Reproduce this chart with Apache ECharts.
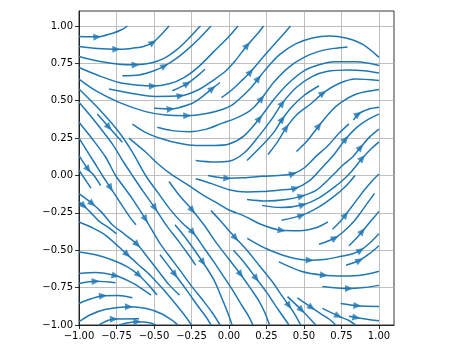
<!DOCTYPE html>
<html><head><meta charset="utf-8">
<script src="https://cdn.jsdelivr.net/npm/echarts@6/dist/echarts.min.js"></script>
<style>html,body{margin:0;padding:0;background:#fff}#c{width:474px;height:355px}</style>
</head><body><div id="c"></div>
<script>
const xTicks = [-1, -0.75, -0.5, -0.25, 0, 0.25, 0.5, 0.75, 1];
const yTicks = [-1, -0.75, -0.5, -0.25, 0, 0.25, 0.5, 0.75, 1];

// streamlines, as [x, y] points
const sl01 = [[-1,0.929],[-0.878,0.927],[-0.78,0.95],[-0.72,0.973],[-0.678,1.0]];
const sl02 = [[-1,0.862],[-0.878,0.849],[-0.751,0.844],[-0.65,0.85],[-0.57,0.862],[-0.507,0.89],[-0.456,0.938],[-0.4,1.0]];
const sl03 = [[-1,0.796],[-0.867,0.764],[-0.733,0.744],[-0.622,0.74],[-0.52,0.752],[-0.43,0.785],[-0.35,0.84],[-0.28,0.905],[-0.2,0.99],[-0.19,1.0]];
const sl04 = [[-0.711,0.667],[-0.6,0.672],[-0.5,0.7],[-0.429,0.733],[-0.35,0.783],[-0.28,0.84],[-0.2,0.915],[-0.12,1.0]];
const sl05 = [[-1,0.722],[-0.867,0.667],[-0.733,0.622],[-0.6,0.603],[-0.507,0.598],[-0.4,0.613],[-0.3,0.655],[-0.2,0.73],[-0.1,0.83],[0,0.93],[0.06,1.0]];
const sl06 = [[-0.378,0.567],[-0.278,0.615],[-0.2,0.675],[-0.16,0.71]];
const sl07 = [[-0.8,0.578],[-0.644,0.549],[-0.489,0.529],[-0.322,0.533],[-0.2,0.575],[-0.1,0.64],[-0.02,0.7],[0.04,0.765],[0.122,0.871],[0.2,0.96],[0.23,1.0]];
const sl08 = [[-0.5,0.449],[-0.389,0.444],[-0.256,0.478],[-0.204,0.507],[-0.111,0.582],[-0.06,0.622]];
const sl09 = [[-0.05,0.52],[0.022,0.575],[0.08,0.63],[0.144,0.693],[0.222,0.785],[0.3,0.875],[0.367,0.95],[0.41,1.0]];
const sl10 = [[-1,0.644],[-0.889,0.567],[-0.733,0.489],[-0.556,0.427],[-0.422,0.404],[-0.278,0.4],[-0.15,0.415],[-0.05,0.44],[0.02,0.47],[0.1,0.54],[0.15,0.59],[0.196,0.649],[0.25,0.715],[0.333,0.805],[0.444,0.88],[0.556,0.92],[0.667,0.933],[0.778,0.92],[0.889,0.878],[1.0,0.79]];
const sl11 = [[-0.478,0.322],[-0.38,0.3],[-0.267,0.293],[-0.15,0.31],[-0.044,0.35],[0.04,0.38],[0.12,0.42],[0.17,0.46],[0.218,0.516],[0.3,0.625],[0.4,0.725],[0.5,0.79],[0.6,0.83],[0.7,0.85],[0.79,0.86]];
const sl12 = [[-0.644,0.344],[-0.55,0.285],[-0.444,0.244],[-0.333,0.215],[-0.222,0.2],[-0.1,0.2],[0,0.21],[0.1,0.265],[0.204,0.382],[0.3,0.51],[0.4,0.62],[0.5,0.7],[0.6,0.74],[0.7,0.76],[0.85,0.76],[1.0,0.735]];
const sl13 = [[-0.222,0.1],[-0.1,0.09],[0,0.095],[0.1,0.15],[0.2,0.265],[0.28,0.37],[0.356,0.484],[0.45,0.59],[0.55,0.66],[0.65,0.695],[0.8,0.705],[0.9,0.7],[1.0,0.685]];
const sl14 = [[0.12,0.1],[0.22,0.2],[0.3,0.29],[0.356,0.378],[0.42,0.46],[0.5,0.535],[0.6,0.6]];
const sl15 = [[0.26,0.14],[0.32,0.22],[0.382,0.32],[0.45,0.405],[0.544,0.478],[0.627,0.551],[0.733,0.615],[0.844,0.645],[1.0,0.635]];
const sl16 = [[0.45,0.16],[0.52,0.23],[0.6,0.333],[0.68,0.43],[0.75,0.49],[0.85,0.545],[1.0,0.575]];
const sl17 = [[-0.14,0.0],[-0.011,-0.018],[0.1,-0.015],[0.222,-0.005],[0.33,0.0],[0.427,0.011],[0.5,0.05],[0.578,0.126],[0.66,0.2],[0.733,0.282],[0.8,0.345]];
const sl18 = [[0.83,0.37],[0.862,0.411],[0.933,0.444],[1.0,0.456]];
const sl19 = [[-0.222,-0.022],[-0.111,-0.056],[0,-0.095],[0.12,-0.11],[0.222,-0.107],[0.33,-0.098],[0.444,-0.085],[0.53,-0.04],[0.6,0.03],[0.7,0.14],[0.778,0.244],[0.85,0.32],[0.92,0.37],[1.0,0.41]];
const sl20 = [[0.12,-0.16],[0.25,-0.17],[0.38,-0.16],[0.484,-0.138],[0.58,-0.1],[0.66,-0.03],[0.72,0.03],[0.76,0.07],[0.82,0.12],[0.878,0.189],[0.94,0.26],[1.0,0.31]];
const sl21 = [[0.22,-0.2],[0.35,-0.215],[0.493,-0.196],[0.6,-0.15],[0.7,-0.08],[0.76,-0.03],[0.82,0.03],[0.889,0.116],[0.95,0.18],[1.0,0.225]];
const sl22 = [[0.35,-0.3],[0.484,-0.267],[0.6,-0.21],[0.7,-0.14],[0.78,-0.07],[0.84,0.0]];
const sl23 = [[-0.667,0.25],[-0.56,0.16],[-0.47,0.075],[-0.389,0.01],[-0.28,-0.06],[-0.156,-0.142],[-0.07,-0.19],[0,-0.231],[0.1,-0.27],[0.22,-0.33],[0.351,-0.367],[0.47,-0.37],[0.58,-0.35],[0.66,-0.31]];
const sl24 = [[0.69,-0.36],[0.74,-0.31],[0.778,-0.262],[0.84,-0.18],[0.9,-0.1],[0.96,-0.03],[1.0,0.01]];
const sl25 = [[0.6,-0.46],[0.707,-0.418],[0.77,-0.37],[0.83,-0.31],[0.88,-0.245],[0.93,-0.175],[0.97,-0.12]];
const sl26 = [[0.8,-0.47],[0.85,-0.42],[0.889,-0.373],[0.95,-0.3],[1.0,-0.24]];
const sl27 = [[0.122,-0.42],[0.25,-0.49],[0.4,-0.545],[0.538,-0.567],[0.65,-0.56],[0.75,-0.54],[0.82,-0.525],[0.878,-0.5],[0.94,-0.45],[1.0,-0.39]];
const sl28 = [[0.78,-0.6],[0.871,-0.567],[0.94,-0.52],[1.0,-0.47]];
const sl29 = [[0.333,-0.578],[0.48,-0.64],[0.633,-0.667],[0.76,-0.672],[0.889,-0.665],[1.0,-0.64]];
const sl30 = [[0.622,-0.742],[0.72,-0.752],[0.8,-0.756],[0.9,-0.75],[1.0,-0.735]];
const sl31 = [[0.744,-0.856],[0.856,-0.871],[1.0,-0.876]];
const sl32 = [[0.8,-0.942],[0.849,-0.951],[1.0,-0.972]];
const sl33 = [[0.622,-0.889],[0.729,-0.94],[0.8,-0.97],[0.844,-1.0]];
const sl34 = [[-0.12,-0.235],[-0.06,-0.3],[0,-0.37],[0.044,-0.418],[0.12,-0.5],[0.2,-0.6],[0.289,-0.711],[0.35,-0.8],[0.4,-0.871],[0.44,-0.93],[0.478,-1.0]];
const sl35 = [[0.03,-0.5],[0.1,-0.58],[0.182,-0.689],[0.25,-0.78],[0.33,-0.9],[0.4,-1.0]];
const sl36 = [[-0.4,-0.04],[-0.333,-0.13],[-0.244,-0.233],[-0.16,-0.34],[-0.089,-0.444],[0,-0.56],[0.078,-0.662],[0.14,-0.75],[0.2,-0.84],[0.24,-0.92],[0.27,-1.0]];
const sl37 = [[-1,0.578],[-0.867,0.444],[-0.733,0.289],[-0.644,0.156],[-0.556,0.0],[-0.47,-0.12],[-0.39,-0.23],[-0.31,-0.32],[-0.24,-0.382],[-0.17,-0.48],[-0.1,-0.58],[-0.04,-0.67],[0.02,-0.76],[0.08,-0.86],[0.13,-0.94],[0.16,-1.0]];
const sl38 = [[-1,0.489],[-0.889,0.356],[-0.778,0.211],[-0.7,0.085],[-0.644,0.0],[-0.57,-0.11],[-0.493,-0.218],[-0.42,-0.33],[-0.333,-0.444],[-0.27,-0.53],[-0.222,-0.6]];
const sl39 = [[-0.878,0.411],[-0.8,0.322],[-0.711,0.222]];
const sl40 = [[-1,0.356],[-0.911,0.244],[-0.822,0.122],[-0.756,0.0],[-0.644,-0.156],[-0.556,-0.293],[-0.467,-0.444],[-0.411,-0.522],[-0.33,-0.63],[-0.25,-0.74],[-0.17,-0.84],[-0.11,-0.92],[-0.06,-1.0]];
const sl41 = [[-1,0.25],[-0.95,0.17],[-0.9,0.09],[-0.844,0.0],[-0.789,-0.084],[-0.72,-0.19],[-0.66,-0.28],[-0.62,-0.33]];
const sl42 = [[-1,0.133],[-0.938,0.04],[-0.9,0.0],[-0.856,-0.067]];
const sl43 = [[-1,0.035],[-0.96,-0.025],[-0.92,-0.085]];
const sl44 = [[-1,-0.122],[-0.911,-0.189],[-0.85,-0.245],[-0.778,-0.33],[-0.7,-0.39],[-0.611,-0.462],[-0.54,-0.55],[-0.47,-0.64],[-0.4,-0.73],[-0.33,-0.8]];
const sl45 = [[-1,-0.178],[-0.967,-0.204],[-0.92,-0.25],[-0.867,-0.305],[-0.8,-0.35],[-0.75,-0.39]];
const sl46 = [[-0.36,-0.33],[-0.28,-0.43],[-0.173,-0.582],[-0.1,-0.7],[-0.04,-0.84],[0.0,-0.94],[0.02,-1.0]];
const sl47 = [[-0.46,-0.53],[-0.36,-0.662],[-0.28,-0.77],[-0.21,-0.87],[-0.15,-0.95],[-0.12,-1.0]];
const sl48 = [[-1,-0.311],[-0.9,-0.355],[-0.822,-0.4],[-0.678,-0.529],[-0.6,-0.6],[-0.522,-0.67],[-0.44,-0.76],[-0.356,-0.86],[-0.3,-0.93],[-0.25,-1.0]];
const sl49 = [[-1,-0.511],[-0.889,-0.53],[-0.778,-0.565],[-0.68,-0.61],[-0.6,-0.667],[-0.53,-0.74],[-0.48,-0.8]];
const sl50 = [[-1,-0.655],[-0.889,-0.649],[-0.756,-0.671],[-0.66,-0.71],[-0.6,-0.745],[-0.52,-0.8]];
const sl51 = [[-1,-0.722],[-0.889,-0.708],[-0.756,-0.718]];
const sl52 = [[-1,-0.856],[-0.92,-0.825],[-0.84,-0.804],[-0.74,-0.803],[-0.644,-0.818]];
const sl53 = [[-1,-0.978],[-0.92,-0.93],[-0.82,-0.895],[-0.667,-0.878],[-0.55,-0.89],[-0.45,-0.925],[-0.37,-0.975],[-0.34,-1.0]];
const sl54 = [[-0.867,-1.0],[-0.82,-0.975],[-0.767,-0.96],[-0.6,-0.958]];
const sl55 = [[-0.733,-1.0],[-0.67,-0.985],[-0.611,-0.978],[-0.53,-0.985],[-0.489,-1.0]];
const sl56 = [[0.39,-0.81],[0.484,-0.9],[0.578,-1.0]];
const sl57 = [[0.456,-0.818],[0.551,-0.884],[0.62,-0.93],[0.667,-0.96],[0.711,-1.0]];

const streamlines = [sl01,sl02,sl03,sl04,sl05,sl06,sl07,sl08,sl09,sl10,sl11,sl12,sl13,sl14,sl15,sl16,sl17,sl18,sl19,sl20,
  sl21,sl22,sl23,sl24,sl25,sl26,sl27,sl28,sl29,sl30,sl31,sl32,sl33,sl34,sl35,sl36,sl37,sl38,sl39,sl40,
  sl41,sl42,sl43,sl44,sl45,sl46,sl47,sl48,sl49,sl50,sl51,sl52,sl53,sl54,sl55,sl56,sl57];
// index of the point carrying an arrow head, per streamline
const arrowIdx = [[1],[2,5],[3],[3],[4],[1],[3,8],[1,4],[3],[5,11],[8],[8],[6],[3],[2,5],[2],[1,5],[1],[6,10],[3,9],
  [2,7],[1],[10],[2],[1],[2],[3,7],[1],[2],[2],[1],[1],[1],[3,8],[2],[2,6],[8],[6],[1],[5],
  [4],[1],[],[1,5],[1],[2],[1],[3],[4],[2],[1],[2],[3],[2],[2],[1],[1]];

const chart = echarts.init(document.getElementById('c'), null, {renderer:'canvas'});
const C0 = '#1f77b4';
const fmt = v => (v < 0 ? '\u2212' : '') + Math.abs(v).toFixed(2);

const series = streamlines.map(pts => ({
  type: 'line', data: pts, showSymbol: false, smooth: 0.3,
  lineStyle: {color: C0, width: 1.5}, silent: true, animation: false, z: 2, clip: true
}));
const arrows = [];
streamlines.forEach((pts, i) => {
  arrowIdx[i].forEach(k => {
    const a = pts[Math.max(0, k - 1)], b = pts[Math.min(pts.length - 1, k + 1)];
    const ang = Math.atan2(b[1] - a[1], b[0] - a[0]) * 180 / Math.PI;
    arrows.push({value: pts[k], symbolRotate: ang - 90});
  });
});
series.push({type: 'scatter', data: arrows, symbol: 'triangle', symbolSize: [7, 8],
  itemStyle: {color: C0}, silent: true, animation: false, z: 3});

const axisCommon = {
  type: 'value', min: -1, max: 1.1, interval: 0.25,
  axisLine: {show: true, onZero: false, lineStyle: {color: '#000', width: 0.8}},
  axisTick: {show: true, inside: false, length: 4, customValues: xTicks, lineStyle: {color: '#000', width: 0.8}},
  splitLine: {show: true, lineStyle: {color: '#b0b0b0', width: 0.8}},
  axisLabel: {customValues: xTicks, formatter: fmt, color: '#000', fontSize: 10, fontFamily: 'DejaVu Sans', margin: 6}
};
chart.setOption({
  animation: false,
  backgroundColor: '#fff',
  grid: {left: 79, top: 11, width: 315, height: 314, show: true, borderColor: '#000', borderWidth: 0.8, containLabel: false},
  xAxis: Object.assign({}, axisCommon),
  yAxis: Object.assign({}, axisCommon, {
    axisTick: Object.assign({}, axisCommon.axisTick, {customValues: yTicks}),
    axisLabel: Object.assign({}, axisCommon.axisLabel, {customValues: yTicks})
  }),
  series: series
});
</script></body></html>
